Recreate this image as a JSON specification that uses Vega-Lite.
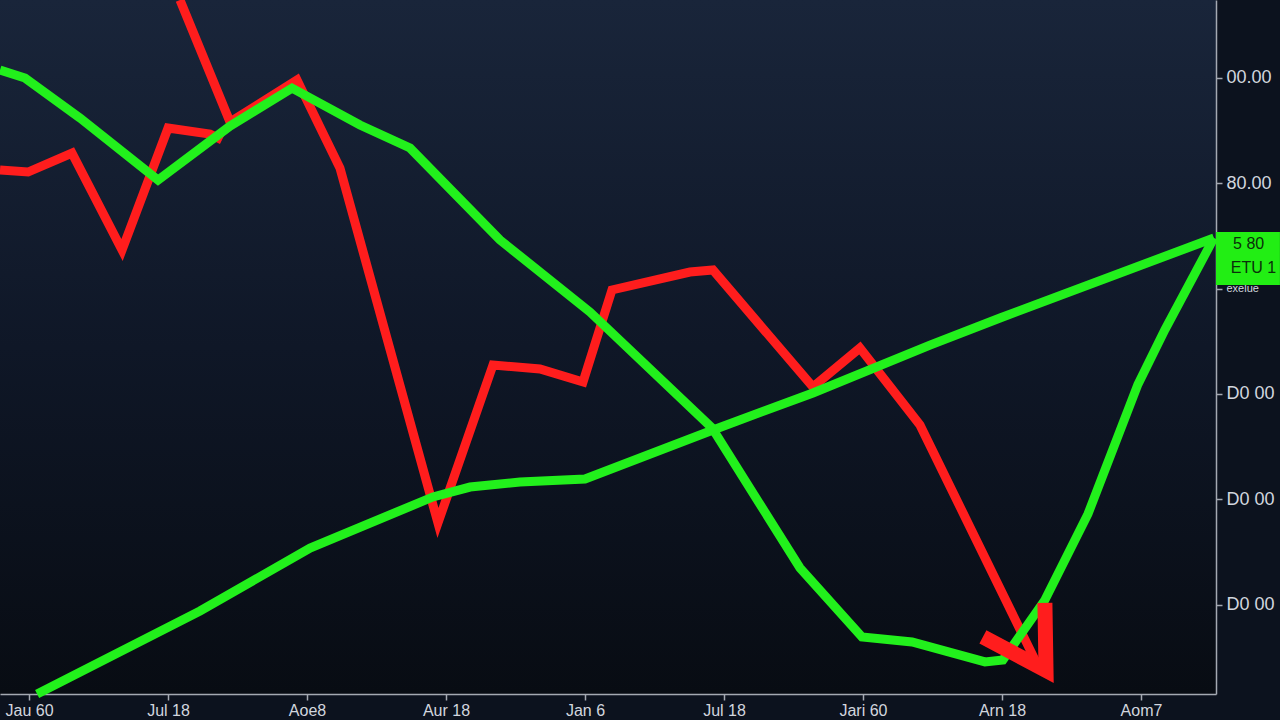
{
  "$schema": "https://vega.github.io/schema/vega-lite/v6.json",
  "width": 1216,
  "height": 694,
  "autosize": {"type": "none"},
  "padding": {"left": 0, "top": 0, "right": 64, "bottom": 26},
  "background": "#0c121e",
  "config": {
    "view": {
      "stroke": null,
      "fill": {"gradient": "linear", "x1": 0, "y1": 0, "x2": 0, "y2": 1,
        "stops": [{"offset": 0, "color": "#19253a"}, {"offset": 0.5, "color": "#0f1727"}, {"offset": 1, "color": "#080c13"}]}
    },
    "axis": {
      "grid": false,
      "domainColor": "#a4a9b2",
      "domainWidth": 1.5,
      "tickColor": "#a4a9b2",
      "tickWidth": 1.5,
      "tickSize": 6,
      "labelColor": "#d2d6de",
      "labelFont": "Liberation Sans",
      "labelFontSize": 18,
      "title": null
    }
  },
  "datasets": {
    "lines": [
      {"series": "red1", "ord": 1, "t": -0.209, "v": 512.3},
      {"series": "red1", "ord": 2, "t": -0.007, "v": 510.4},
      {"series": "red1", "ord": 3, "t": 0.309, "v": 528.4},
      {"series": "red1", "ord": 4, "t": 0.669, "v": 436.5},
      {"series": "red1", "ord": 5, "t": 1.0, "v": 552.1},
      {"series": "red1", "ord": 6, "t": 1.302, "v": 546.4},
      {"series": "red1", "ord": 7, "t": 1.388, "v": 540.8},
      {"series": "red2", "ord": 1, "t": 1.086, "v": 673.5},
      {"series": "red2", "ord": 2, "t": 1.446, "v": 557.8},
      {"series": "red2", "ord": 3, "t": 1.928, "v": 597.6},
      {"series": "red2", "ord": 4, "t": 2.237, "v": 514.2},
      {"series": "red2", "ord": 5, "t": 2.942, "v": 177.7},
      {"series": "red2", "ord": 6, "t": 3.338, "v": 327.5},
      {"series": "red2", "ord": 7, "t": 3.676, "v": 323.7},
      {"series": "red2", "ord": 8, "t": 3.986, "v": 311.4},
      {"series": "red2", "ord": 9, "t": 4.194, "v": 398.6},
      {"series": "red2", "ord": 10, "t": 4.755, "v": 415.6},
      {"series": "red2", "ord": 11, "t": 4.921, "v": 417.5},
      {"series": "red2", "ord": 12, "t": 5.640, "v": 306.6},
      {"series": "red2", "ord": 13, "t": 5.978, "v": 343.6},
      {"series": "red2", "ord": 14, "t": 6.410, "v": 270.6},
      {"series": "red2", "ord": 15, "t": 7.273, "v": 38.4},
      {"series": "green1", "ord": 1, "t": -0.209, "v": 607.1},
      {"series": "green1", "ord": 2, "t": -0.029, "v": 599.5},
      {"series": "green1", "ord": 3, "t": 0.367, "v": 561.6},
      {"series": "green1", "ord": 4, "t": 0.928, "v": 502.8},
      {"series": "green1", "ord": 5, "t": 1.446, "v": 554.0},
      {"series": "green1", "ord": 6, "t": 1.892, "v": 590.0},
      {"series": "green1", "ord": 7, "t": 2.381, "v": 555.0},
      {"series": "green1", "ord": 8, "t": 2.741, "v": 533.2},
      {"series": "green1", "ord": 9, "t": 3.388, "v": 446.0},
      {"series": "green1", "ord": 10, "t": 4.036, "v": 377.7},
      {"series": "green1", "ord": 11, "t": 4.914, "v": 267.8},
      {"series": "green1", "ord": 12, "t": 5.547, "v": 135.1},
      {"series": "green1", "ord": 13, "t": 5.993, "v": 69.7},
      {"series": "green1", "ord": 14, "t": 6.353, "v": 64.9},
      {"series": "green1", "ord": 15, "t": 6.878, "v": 46.0},
      {"series": "green1", "ord": 16, "t": 7.007, "v": 47.9},
      {"series": "green1", "ord": 17, "t": 7.309, "v": 104.7},
      {"series": "green1", "ord": 18, "t": 7.619, "v": 186.3},
      {"series": "green1", "ord": 19, "t": 7.978, "v": 309.0},
      {"series": "green1", "ord": 20, "t": 8.173, "v": 361.1},
      {"series": "green1", "ord": 21, "t": 8.525, "v": 447.9},
      {"series": "green2", "ord": 1, "t": 0.058, "v": 15.6},
      {"series": "green2", "ord": 2, "t": 1.230, "v": 94.3},
      {"series": "green2", "ord": 3, "t": 2.022, "v": 154.0},
      {"series": "green2", "ord": 4, "t": 2.906, "v": 202.4},
      {"series": "green2", "ord": 5, "t": 3.173, "v": 211.8},
      {"series": "green2", "ord": 6, "t": 3.532, "v": 216.6},
      {"series": "green2", "ord": 7, "t": 4.0, "v": 219.4},
      {"series": "green2", "ord": 8, "t": 4.921, "v": 265.9},
      {"series": "green2", "ord": 9, "t": 5.640, "v": 301.0},
      {"series": "green2", "ord": 10, "t": 6.482, "v": 346.4},
      {"series": "green2", "ord": 11, "t": 6.986, "v": 372.0},
      {"series": "green2", "ord": 12, "t": 8.525, "v": 447.9},
      {"series": "arrow", "ord": 1, "t": 6.863, "v": 69.7},
      {"series": "arrow", "ord": 2, "t": 7.317, "v": 38.0},
      {"series": "arrow", "ord": 3, "t": 7.309, "v": 101.9}
    ],
    "box": [
      {"t0": 8.54, "t1": 9.0, "v0": 453.6, "v1": 403.3}
    ],
    "boxText": [
      {"t": 8.663, "v": 442.2, "label": "5 80"},
      {"t": 8.647, "v": 419.4, "label": "ETU 1"}
    ]
  },
  "layer": [
    {
      "data": {"name": "lines"},
      "transform": [{"filter": "datum.series == 'red1' || datum.series == 'red2'"}],
      "mark": {"type": "line", "color": "#ff1d1d", "strokeWidth": 9, "strokeJoin": "miter", "strokeCap": "butt"},
      "encoding": {
        "x": {"field": "t", "type": "quantitative",
          "scale": {"domain": [-0.209, 8.54], "nice": false, "zero": false},
          "axis": {"orient": "bottom", "values": [0, 1, 2, 3, 4, 5, 6, 7, 8],
            "labelExpr": "['Jau 60','Jul 18','Aoe8','Aur 18','Jan 6','Jul 18','Jari 60','Arn 18','Aom7'][datum.value]",
            "labelPadding": 2, "labelBaseline": "top", "labelFontSize": 16, "labelFlush": false}},
        "y": {"field": "v", "type": "quantitative",
          "scale": {"domain": [15.6, 673.5], "nice": false, "zero": false},
          "axis": {"orient": "right", "values": [100, 200, 300, 400, 500, 600],
            "labelExpr": "datum.value == 600 ? '00.00' : datum.value == 500 ? '80.00' : datum.value == 400 ? 'exelue' : 'D0 00'",
            "labelFontSize": {"condition": {"test": "datum.value == 400", "value": 11}, "value": 18},
            "labelPadding": 4, "labelFlush": false}},
        "detail": {"field": "series"},
        "order": {"field": "ord"}
      }
    },
    {
      "data": {"name": "lines"},
      "transform": [{"filter": "datum.series == 'green1' || datum.series == 'green2'"}],
      "mark": {"type": "line", "color": "#22f01c", "strokeWidth": 9, "strokeJoin": "miter", "strokeCap": "butt"},
      "encoding": {
        "x": {"field": "t", "type": "quantitative"},
        "y": {"field": "v", "type": "quantitative"},
        "detail": {"field": "series"},
        "order": {"field": "ord"}
      }
    },
    {
      "data": {"name": "lines"},
      "transform": [{"filter": "datum.series == 'arrow'"}],
      "mark": {"type": "line", "color": "#ff1d1d", "strokeWidth": 15, "strokeJoin": "miter", "strokeCap": "butt"},
      "encoding": {
        "x": {"field": "t", "type": "quantitative"},
        "y": {"field": "v", "type": "quantitative"},
        "order": {"field": "ord"}
      }
    },
    {
      "data": {"name": "box"},
      "mark": {"type": "rect", "color": "#22ee14"},
      "encoding": {
        "x": {"field": "t0", "type": "quantitative"},
        "x2": {"field": "t1"},
        "y": {"field": "v0", "type": "quantitative"},
        "y2": {"field": "v1"}
      }
    },
    {
      "data": {"name": "boxText"},
      "mark": {"type": "text", "align": "left", "baseline": "middle", "font": "Liberation Sans", "fontSize": 16, "color": "#0a300a"},
      "encoding": {
        "x": {"field": "t", "type": "quantitative"},
        "y": {"field": "v", "type": "quantitative"},
        "text": {"field": "label"}
      }
    }
  ]
}
